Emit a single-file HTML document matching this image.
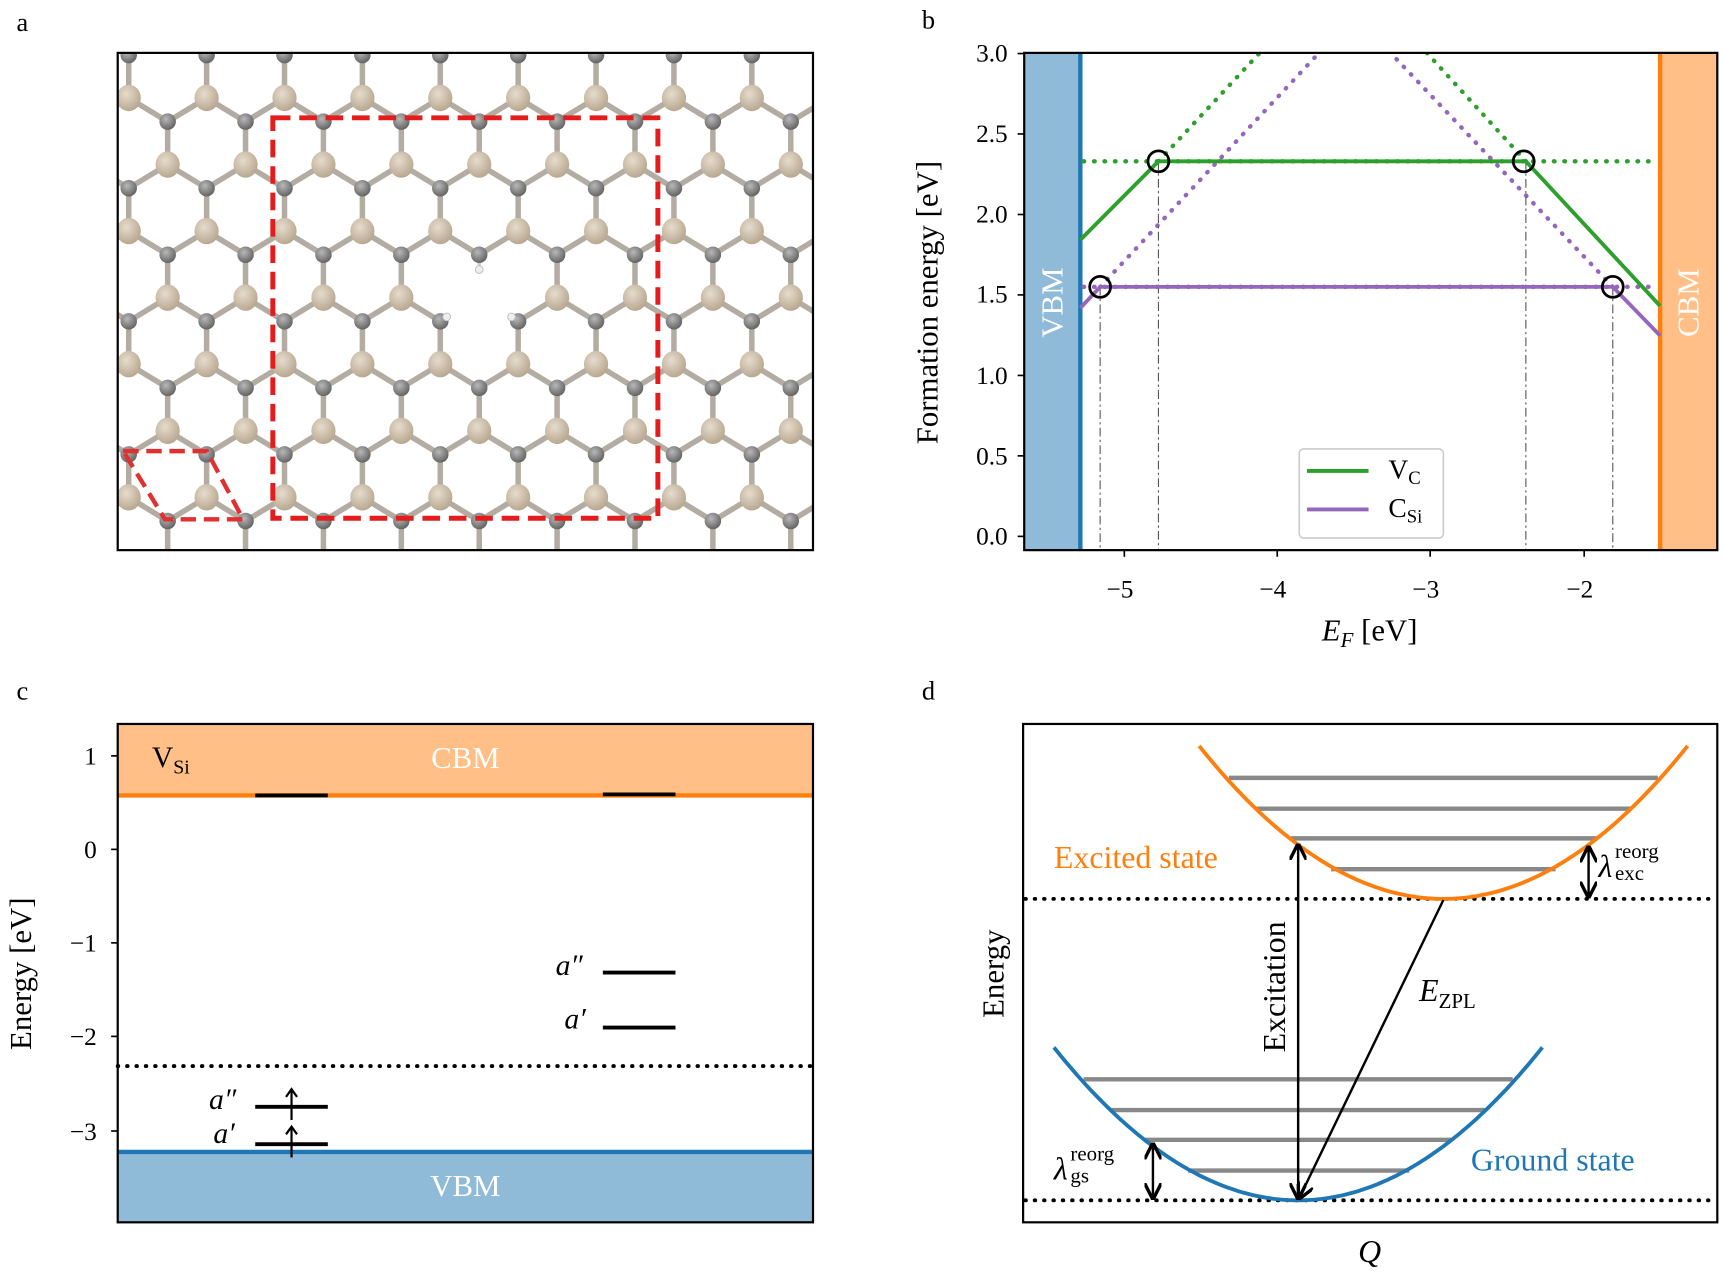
<!DOCTYPE html>
<html><head><meta charset="utf-8"><style>
html,body{margin:0;padding:0;background:#fff;}
svg{display:block;}
text{font-family:"Liberation Serif",serif;}
</style></head><body>
<svg id="s" width="1725" height="1273" viewBox="0 0 1568 1157" xmlns="http://www.w3.org/2000/svg">
<defs>
<clipPath id="ca"><rect x="107" y="48" width="632" height="452"/></clipPath>
<clipPath id="cb"><rect x="931" y="48" width="630" height="452"/></clipPath>
<radialGradient id="gsi" cx="0.4" cy="0.35" r="0.7"><stop offset="0" stop-color="#e6dccd"/><stop offset="1" stop-color="#b5a48c"/></radialGradient>
<radialGradient id="gc" cx="0.4" cy="0.35" r="0.7"><stop offset="0" stop-color="#b8b8b8"/><stop offset="1" stop-color="#5e5e5e"/></radialGradient>
<marker id="ah" viewBox="0 0 10 10" refX="9" refY="5" markerWidth="7" markerHeight="7" orient="auto-start-reverse"><path d="M0,0 L10,5 L0,10" fill="none" stroke="#000" stroke-width="2"/></marker>
</defs>

<text x="15" y="28" font-size="24">a</text>
<text x="838" y="26" font-size="24">b</text>
<text x="15" y="636" font-size="24">c</text>
<text x="838" y="636" font-size="24">d</text>

<g id="lat" clip-path="url(#ca)"></g>
<rect x="107" y="48" width="632" height="452" fill="none" stroke="#000" stroke-width="2"/>
<rect x="248" y="107" width="350" height="364" fill="none" stroke="#e41c1c" stroke-width="4.5" stroke-dasharray="16,8"/>
<polygon points="112,410 188,410 221,472 150,472" fill="none" stroke="#e03030" stroke-width="4" stroke-dasharray="14,7"/>

<g clip-path="url(#cb)">
<rect x="931" y="48" width="51" height="452" fill="#8fbbd9"/>
<rect x="1509" y="48" width="52" height="452" fill="#ffbf86"/>
<line x1="982" y1="48" x2="982" y2="500" stroke="#1f77b4" stroke-width="4"/>
<line x1="1509" y1="48" x2="1509" y2="500" stroke="#ff7f0e" stroke-width="4"/>
<g fill="none" stroke-width="4" stroke-dasharray="0.5,9" stroke-linecap="round">
<line x1="985" y1="146.6" x2="1506" y2="146.6" stroke="#2ca02c"/>
<line x1="1053" y1="146.6" x2="1145" y2="48" stroke="#2ca02c"/>
<line x1="1387" y1="146.6" x2="1297" y2="48" stroke="#2ca02c"/>
<line x1="985" y1="260.7" x2="1506" y2="260.7" stroke="#9467bd"/>
<line x1="1000" y1="260.7" x2="1199" y2="48" stroke="#9467bd"/>
<line x1="1466" y1="260.7" x2="1264" y2="48" stroke="#9467bd"/>
</g>
<g stroke="#555" stroke-width="1" stroke-dasharray="8,3,2,3">
<line x1="1053" y1="146.6" x2="1053" y2="500"/>
<line x1="1387" y1="146.6" x2="1387" y2="500"/>
<line x1="1000" y1="260.7" x2="1000" y2="500"/>
<line x1="1466" y1="260.7" x2="1466" y2="500"/>
</g>
<polyline points="982,218 1053,146.6 1387,146.6 1509,278" fill="none" stroke="#2ca02c" stroke-width="3.5"/>
<polyline points="982,280 1000,260.7 1466,260.7 1509,305" fill="none" stroke="#9467bd" stroke-width="3.5"/>
<g fill="none" stroke="#000" stroke-width="2.5">
<circle cx="1053" cy="146.6" r="9.5"/><circle cx="1385" cy="146.6" r="9.5"/>
<circle cx="1000" cy="260.7" r="9.5"/><circle cx="1466" cy="260.7" r="9.5"/>
</g>
<text transform="translate(966,275) rotate(-90)" font-size="28" fill="#fff" text-anchor="middle">VBM</text>
<text transform="translate(1544,275) rotate(-90)" font-size="28" fill="#fff" text-anchor="middle">CBM</text>
</g>
<rect x="931" y="48" width="630" height="452" fill="none" stroke="#000" stroke-width="2"/>
<rect x="1181" y="408" width="131" height="81" rx="4" fill="#fff" fill-opacity="0.8" stroke="#ccc" stroke-width="1.5"/>
<line x1="1188" y1="428" x2="1244" y2="428" stroke="#2ca02c" stroke-width="3.5"/>
<line x1="1188" y1="463" x2="1244" y2="463" stroke="#9467bd" stroke-width="3.5"/>
<text x="1262" y="435" font-size="25">V<tspan font-size="17" dy="5">C</tspan></text>
<text x="1262" y="470" font-size="25">C<tspan font-size="17" dy="5">Si</tspan></text>
<g font-size="23" text-anchor="end">
<text x="916" y="56">3.0</text><text x="916" y="129">2.5</text><text x="916" y="202">2.0</text>
<text x="916" y="275">1.5</text><text x="916" y="349">1.0</text><text x="916" y="422">0.5</text><text x="916" y="495">0.0</text>
</g>
<g stroke="#000" stroke-width="1.5">
<line x1="925" y1="48.6" x2="931" y2="48.6"/><line x1="925" y1="121.7" x2="931" y2="121.7"/><line x1="925" y1="194.9" x2="931" y2="194.9"/>
<line x1="925" y1="268" x2="931" y2="268"/><line x1="925" y1="341.2" x2="931" y2="341.2"/><line x1="925" y1="414.3" x2="931" y2="414.3"/><line x1="925" y1="487.5" x2="931" y2="487.5"/>
<line x1="1022" y1="500" x2="1022" y2="506"/><line x1="1161" y1="500" x2="1161" y2="506"/><line x1="1300" y1="500" x2="1300" y2="506"/><line x1="1440" y1="500" x2="1440" y2="506"/>
</g>
<g font-size="23" text-anchor="middle">
<text x="1018" y="543">−5</text><text x="1157" y="543">−4</text><text x="1296" y="543">−3</text><text x="1436" y="543">−2</text>
</g>
<text transform="translate(852,275) rotate(-90)" font-size="28" text-anchor="middle">Formation energy [eV]</text>
<text x="1245" y="582" font-size="28" text-anchor="middle"><tspan font-style="italic">E</tspan><tspan font-style="italic" font-size="19" dy="6">F</tspan><tspan dy="-6"> [eV]</tspan></text>

<rect x="107" y="658" width="632" height="65" fill="#ffbf86"/>
<rect x="107" y="1047" width="632" height="64" fill="#8fbbd9"/>
<line x1="107" y1="723" x2="739" y2="723" stroke="#ff7f0e" stroke-width="4"/>
<line x1="107" y1="1047" x2="739" y2="1047" stroke="#1f77b4" stroke-width="4"/>
<line x1="107" y1="969" x2="739" y2="969" stroke="#000" stroke-width="3.5" stroke-dasharray="0.5,8" stroke-linecap="round"/>
<rect x="107" y="658" width="632" height="453" fill="none" stroke="#000" stroke-width="2"/>
<text x="423" y="698" font-size="28" fill="#fff" text-anchor="middle">CBM</text>
<text x="423" y="1087" font-size="28" fill="#fff" text-anchor="middle">VBM</text>
<text x="138" y="697" font-size="27">V<tspan font-size="18" dy="6">Si</tspan></text>
<g stroke="#000" stroke-width="3.5">
<line x1="232" y1="723" x2="298" y2="723"/><line x1="548" y1="722" x2="614" y2="722"/>
<line x1="548" y1="884" x2="614" y2="884"/><line x1="548" y1="934" x2="614" y2="934"/>
<line x1="232" y1="1006" x2="298" y2="1006"/><line x1="232" y1="1040" x2="298" y2="1040"/>
</g>
<g stroke="#000" stroke-width="2" fill="none">
<line x1="265" y1="1018" x2="265" y2="991"/><polyline points="260,997 265,990 270,997"/>
<line x1="265" y1="1052" x2="265" y2="1025"/><polyline points="260,1031 265,1024 270,1031"/>
</g>
<g font-size="27" font-style="italic">
<text x="505" y="886">a″</text><text x="513" y="935">a′</text>
<text x="190" y="1008">a″</text><text x="194" y="1039">a′</text>
</g>
<g font-size="23" text-anchor="end">
<text x="88" y="695">1</text><text x="88" y="780">0</text><text x="88" y="865">−1</text><text x="88" y="950">−2</text><text x="88" y="1036">−3</text>
</g>
<g stroke="#000" stroke-width="1.5">
<line x1="101" y1="687" x2="107" y2="687"/><line x1="101" y1="772" x2="107" y2="772"/><line x1="101" y1="857" x2="107" y2="857"/><line x1="101" y1="942" x2="107" y2="942"/><line x1="101" y1="1028" x2="107" y2="1028"/>
</g>
<text transform="translate(28,885) rotate(-90)" font-size="28" text-anchor="middle">Energy [eV]</text>

<rect x="930" y="658" width="631" height="453" fill="none" stroke="#000" stroke-width="2"/>
<g stroke="#000" stroke-width="3.5" stroke-dasharray="0.5,8" stroke-linecap="round">
<line x1="932" y1="817" x2="1561" y2="817"/><line x1="932" y1="1091" x2="1561" y2="1091"/>
</g>
<g stroke="#888" stroke-width="4">
<line x1="1117" y1="707" x2="1507" y2="707"/><line x1="1142" y1="735" x2="1482" y2="735"/>
<line x1="1173" y1="762" x2="1452" y2="762"/><line x1="1210" y1="790" x2="1414" y2="790"/>
<line x1="985" y1="981" x2="1375" y2="981"/><line x1="1010" y1="1009" x2="1350" y2="1009"/>
<line x1="1041" y1="1036" x2="1319" y2="1036"/><line x1="1080" y1="1064" x2="1281" y2="1064"/>
</g>
<path id="pe" fill="none" stroke="#ff7f0e" stroke-width="3.5"/>
<path id="pg" fill="none" stroke="#1f77b4" stroke-width="3.5"/>
<g stroke="#000" stroke-width="2.2" fill="none">
<line x1="1180" y1="1089" x2="1180" y2="768" marker-start="url(#ah)" marker-end="url(#ah)"/>
<line x1="1312" y1="818" x2="1181" y2="1089" marker-end="url(#ah)"/>
<line x1="1444" y1="770" x2="1444" y2="815" marker-start="url(#ah)" marker-end="url(#ah)"/>
<line x1="1048" y1="1040" x2="1048" y2="1089" marker-start="url(#ah)" marker-end="url(#ah)"/>
</g>
<text x="958" y="789" font-size="29" fill="#ff7f0e">Excited state</text>
<text x="1337" y="1064" font-size="29" fill="#1f77b4">Ground state</text>
<text transform="translate(1168,897) rotate(-90)" font-size="29" text-anchor="middle">Excitation</text>
<text x="1290" y="910" font-size="29"><tspan font-style="italic">E</tspan><tspan font-size="19" dy="6">ZPL</tspan></text>
<text x="1453" y="797" font-size="29" font-style="italic">λ</text>
<text x="1468" y="780" font-size="19">reorg</text><text x="1468" y="800" font-size="19">exc</text>
<text x="958" y="1072" font-size="29" font-style="italic">λ</text>
<text x="973" y="1055" font-size="19">reorg</text><text x="973" y="1075" font-size="19">gs</text>
<text transform="translate(912,885) rotate(-90)" font-size="28" text-anchor="middle">Energy</text>
<text x="1245" y="1147" font-size="29" font-style="italic" text-anchor="middle">Q</text>
</svg>
<script>
(function(){
var NS="http://www.w3.org/2000/svg";
function el(t,a,p){var e=document.createElementNS(NS,t);for(var k in a)e.setAttribute(k,a[k]);p.appendChild(e);return e;}
var a=139/(222*222),d="";
for(var x=1090;x<=1535;x+=3){d+=(x==1090?"M":"L")+x+","+(817-a*(x-1312)*(x-1312)).toFixed(1);}
document.getElementById("pe").setAttribute("d",d);d="";
for(var x=958;x<=1403;x+=3){d+=(x==958?"M":"L")+x+","+(1091-a*(x-1180)*(x-1180)).toFixed(1);}
document.getElementById("pg").setAttribute("d",d);
var g=document.getElementById("lat");
var sx=70.8,x0=117,per=60.5,yC0=50,L=39,h=21.5;
var bonds=el("g",{stroke:"#b3aca2","stroke-width":"5","stroke-linecap":"round"},g);
var atoms=el("g",{},g);
function vac(k,x){return k==3&&Math.abs(x-435.6)<2;}
var si=[],c=[];
for(var k=-1;k<=8;k++){
 var off=(((k%2)+2)%2)*sx/2;
 for(var j=-1;j<=10;j++){
  var x=x0+off+j*sx, yc=yC0+k*per, ys=yc+L;
  c.push([x,yc]);
  if(!vac(k,x)){
   si.push([x,ys]);
   el("line",{x1:x,y1:yc,x2:x,y2:ys},bonds);
   el("line",{x1:x,y1:ys,x2:x-sx/2,y2:ys+h},bonds);
   el("line",{x1:x,y1:ys,x2:x+sx/2,y2:ys+h},bonds);
  }
 }
}
el("line",{x1:435.6,y1:231.5,x2:435.6,y2:244,stroke:"#ccc","stroke-width":"3"},bonds);
el("line",{x1:400.2,y1:292,x2:406,y2:288,stroke:"#ccc","stroke-width":"3"},bonds);
el("line",{x1:471,y1:292,x2:465,y2:288,stroke:"#ccc","stroke-width":"3"},bonds);
si.forEach(function(p){el("ellipse",{cx:p[0],cy:p[1],rx:11,ry:12,fill:"url(#gsi)"},atoms);});
c.forEach(function(p){el("circle",{cx:p[0],cy:p[1],r:7.5,fill:"url(#gc)"},atoms);});
[[435.6,245],[406,288],[465,288]].forEach(function(p){el("circle",{cx:p[0],cy:p[1],r:3.5,fill:"#eee",stroke:"#bbb","stroke-width":"0.8"},atoms);});
})();
</script>
</body></html>
